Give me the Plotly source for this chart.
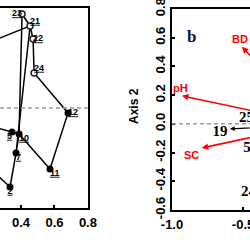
import plotly.graph_objects as go

# ---------------- Panel a (trajectory) ----------------
pt_ids = [2, 3, 4, 5, 7, 10, 11, 12, 20, 21, 22, 23, 24]
pt_x = [0.334, 0.095, 0.036, 0.346, 0.370, 0.388, 0.573, 0.681, 0.036, 0.454, 0.472, 0.406, 0.478]
pt_y = [-0.79, -0.42, -0.10, -0.24, -0.45, -0.26, -0.61, -0.05, 0.54, 0.82, 0.69, 0.94, 0.35]
labelled_ids = [2, 5, 7, 10, 11, 12, 21, 22, 23, 24]
path_a = [20, 21, 23, 10, 5, 4]
path_b = [3, 2, 7, 10, 11, 12, 24, 22, 21, 7]

# ---------------- Panel b (biplot) ----------------
vec_names = ["pH", "SC", "BD"]
vec_x = [-0.93, -0.79, -0.507]
vec_y = [0.195, -0.168, 0.537]
vec_origin_x = [0.0, 0.0, 0.0]
vec_origin_y = [0.0, 0.0, 0.0]
samp_names = ["25", "19", "5", "24"]
samp_x = [-0.475, -0.662, -0.472, -0.461]
samp_y = [0.042, -0.056, -0.167, -0.474]
move_head = (-0.592, -0.035)
move_tail = (0.0, -0.007)
x1_ticks = [0.4, 0.6, 0.8]
x2_ticks = [-1.0, -0.5]
y2_ticks = [-0.6, -0.4, -0.2, 0.0, 0.2, 0.4, 0.6, 0.8]

SANS = "Liberation Sans"
SERIF = "Liberation Serif"

lookup = {i: (x, y) for i, x, y in zip(pt_ids, pt_x, pt_y)}

def path_coords(path):
    return [lookup[i][0] for i in path], [lookup[i][1] for i in path]

fig = go.Figure()

lx, ly = [], []
for p in (path_a, path_b):
    xs, ys = path_coords(p)
    lx += xs + [None]
    ly += ys + [None]
fig.add_trace(go.Scatter(x=lx, y=ly, mode="lines", line=dict(color="black", width=1.5),
                         xaxis="x", yaxis="y", hoverinfo="skip", showlegend=False))

filled = [i for i in pt_ids if i <= 12]
hollow = [i for i in pt_ids if i > 12]
fig.add_trace(go.Scatter(x=[lookup[i][0] for i in filled], y=[lookup[i][1] for i in filled],
                         mode="markers", marker=dict(color="black", size=7),
                         xaxis="x", yaxis="y", showlegend=False))
fig.add_trace(go.Scatter(x=[lookup[i][0] for i in hollow], y=[lookup[i][1] for i in hollow],
                         mode="markers",
                         marker=dict(color="white", size=6, line=dict(color="#222", width=1.5)),
                         xaxis="x", yaxis="y", showlegend=False))

label_pos = {2: "bottom center", 5: "bottom left", 7: "bottom right", 10: "bottom right",
             11: "bottom right", 12: "middle right", 21: "top right", 22: "middle right",
             23: "middle left", 24: "top right"}
fig.add_trace(go.Scatter(
    x=[lookup[i][0] for i in labelled_ids], y=[lookup[i][1] for i in labelled_ids],
    mode="text",
    text=[f"<span style='text-decoration:underline'><b>{i}</b></span>" for i in labelled_ids],
    textposition=[label_pos[i] for i in labelled_ids],
    textfont=dict(family=SANS, size=9, color="black"),
    xaxis="x", yaxis="y", showlegend=False))

# panel b traces
fig.add_trace(go.Scatter(x=samp_x, y=samp_y, mode="text", text=[f"<b>{s}</b>" for s in samp_names],
                         textfont=dict(family=SERIF, size=15, color="black"),
                         xaxis="x2", yaxis="y2", showlegend=False))

annotations = []
lab_shift = {"pH": (-1, 8), "SC": (-10, -7), "BD": (-2, 8)}
for n, hx, hy, ox, oy in zip(vec_names, vec_x, vec_y, vec_origin_x, vec_origin_y):
    annotations.append(dict(x=hx, y=hy, ax=ox, ay=oy, xref="x2", yref="y2", axref="x2", ayref="y2",
                            text="", showarrow=True, arrowhead=2, arrowsize=0.8, arrowwidth=1.6,
                            arrowcolor="#ff0000", standoff=0))
    sx, sy = lab_shift[n]
    annotations.append(dict(x=hx, y=hy, xref="x2", yref="y2", text=f"<b>{n}</b>", showarrow=False,
                            xshift=sx, yshift=sy, font=dict(family=SANS, size=11, color="#ff0000")))
annotations.append(dict(x=move_head[0], y=move_head[1], ax=move_tail[0], ay=move_tail[1],
                        xref="x2", yref="y2", axref="x2", ayref="y2", text="", showarrow=True,
                        arrowhead=2, arrowsize=0.8, arrowwidth=1.2, arrowcolor="black", standoff=0))
annotations.append(dict(x=-0.86, y=0.61, xref="x2", yref="y2", text="<b>b</b>", showarrow=False,
                        font=dict(family=SERIF, size=17, color="#0a1450")))
annotations.append(dict(x=134 / 250, y=1 - 106 / 250, xref="paper", yref="paper",
                        text="<b>Axis 2</b>", showarrow=False, textangle=-90,
                        font=dict(family=SANS, size=12, color="black")))

shapes = [
    dict(type="line", xref="x domain", yref="y", x0=0, x1=1, y0=0, y1=0,
         line=dict(color="#9a9a9a", width=1.5, dash="4px,3px")),
    dict(type="line", xref="x2 domain", yref="y2", x0=0, x1=1, y0=0, y1=0,
         line=dict(color="#9a9a9a", width=1.5, dash="4px,3px")),
]

axis_common = dict(showgrid=False, zeroline=False, showline=True, linecolor="black", linewidth=2,
                   ticks="inside", ticklen=3, tickcolor="black", tickwidth=1.5,
                   automargin=False, ticklabeloverflow="allow")
tickfont = dict(family=SANS, size=13, color="black")

fig.update_layout(
    template=None,
    width=250, height=250, margin=dict(l=0, r=0, t=0, b=0, autoexpand=False),
    paper_bgcolor="white", plot_bgcolor="white",
    xaxis=dict(domain=[0, 0.352], range=[0.274, 0.8005], tickvals=x1_ticks,
               ticktext=[f"<b>{v:.1f}</b>" for v in x1_ticks], mirror=True, anchor="y",
               tickfont=tickfont, ticklabelstandoff=1, **axis_common),
    yaxis=dict(domain=[0.168, 0.968], range=[-1, 1], side="right", showticklabels=False,
               tickvals=[], anchor="x", **axis_common),
    xaxis2=dict(domain=[0.688, 1.0], range=[-1.0, -0.451], tickvals=x2_ticks,
                ticktext=[f"<b>{v:.1f}</b>" for v in x2_ticks], mirror=True, anchor="y2",
                tickfont=tickfont, ticklabelstandoff=1, **axis_common),
    yaxis2=dict(domain=[0.16, 0.964], range=[-0.6005, 0.8005], tickvals=y2_ticks,
                ticktext=[f"<b>{v:.1f}</b>" for v in y2_ticks], tickangle=-90, anchor="x2",
                tickfont=tickfont, **axis_common),
    shapes=shapes, annotations=annotations,
)

fig.write_html("out.html")
